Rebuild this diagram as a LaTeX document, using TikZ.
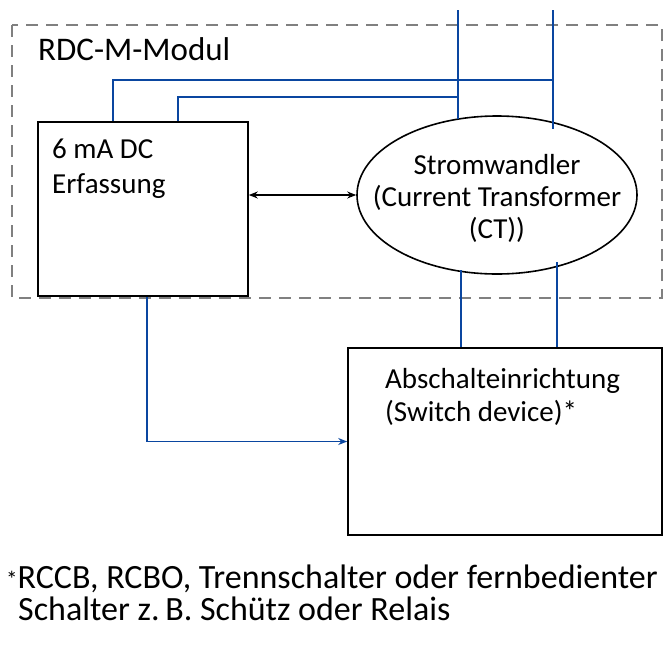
\documentclass[tikz,border=0pt]{standalone}
\usepackage{fontspec}
\setmainfont{Carlito}
\usetikzlibrary{arrows.meta,shapes.geometric}
\definecolor{wire}{RGB}{10,70,160}
\begin{document}
\begin{tikzpicture}[x=1pt,y=-1pt,
  box/.style={draw,line width=1.6pt,inner sep=0pt},
  w/.style={draw=wire,line width=1.8pt},
  lbl/.style={font=\fontsize{29}{33}\selectfont,align=left,inner sep=0pt,anchor=base west},
  >={Stealth[length=9pt,width=7pt]}]
\useasboundingbox (0,0) rectangle (671,657);
\draw[gray,dash pattern=on 12pt off 8pt,line width=1.5pt] (12,25) rectangle (662,298);
\node[lbl,font=\fontsize{33}{33}\selectfont] (mod) at (38,60) {RDC-M-Modul};
\node[box,minimum width=210pt,minimum height=174pt] (det) at (143,209) {};
\node[lbl] (dett) at (52,193) {6 mA DC\\[2pt]Erfassung};
\node[draw,ellipse,line width=1.6pt,minimum width=280pt,minimum height=158pt,inner sep=0pt] (ct) at (497,195) {};
\node[font=\fontsize{29}{32}\selectfont,align=center,inner sep=0pt] (ctt) at (497,198) {Stromwandler\\(Current Transformer\\(CT))};
\node[box,minimum width=314pt,minimum height=187pt] (sw) at (505,441.5) {};
\node[lbl] (swt) at (385,421) {Abschalteinrichtung\\(Switch device)*};
\draw[<->,line width=1.3pt] (det.east|-ct) -- (ct.west);
\coordinate (t1) at (458,10); \coordinate (t2) at (553,10);
\draw[w] (t1) -- (458,119);
\draw[w] (t2) -- (553,129);
\draw[w] (det.north-|113,0) -- (113,80) -- (553,80);
\draw[w] (det.north-|178,0) -- (178,97) -- (458,97);
\draw[w] (461,270) -- (sw.north-|461,0);
\draw[w] (557,262) -- (sw.north-|557,0);
\draw[w,line width=1.8pt,->] (det.south-|147,0) -- (sw.west-|147,0) -- (sw.west);
\node[font=\fontsize{34}{32}\selectfont,align=left,anchor=base west,inner sep=0pt] (fn) at (6,620)
 {\raisebox{1pt}{\fontsize{23}{23}\selectfont *}RCCB, RCBO, Trennschalter oder fernbedienter\\\hspace*{12pt}Schalter z.\,B. Schütz oder Relais};
\end{tikzpicture}
\end{document}
